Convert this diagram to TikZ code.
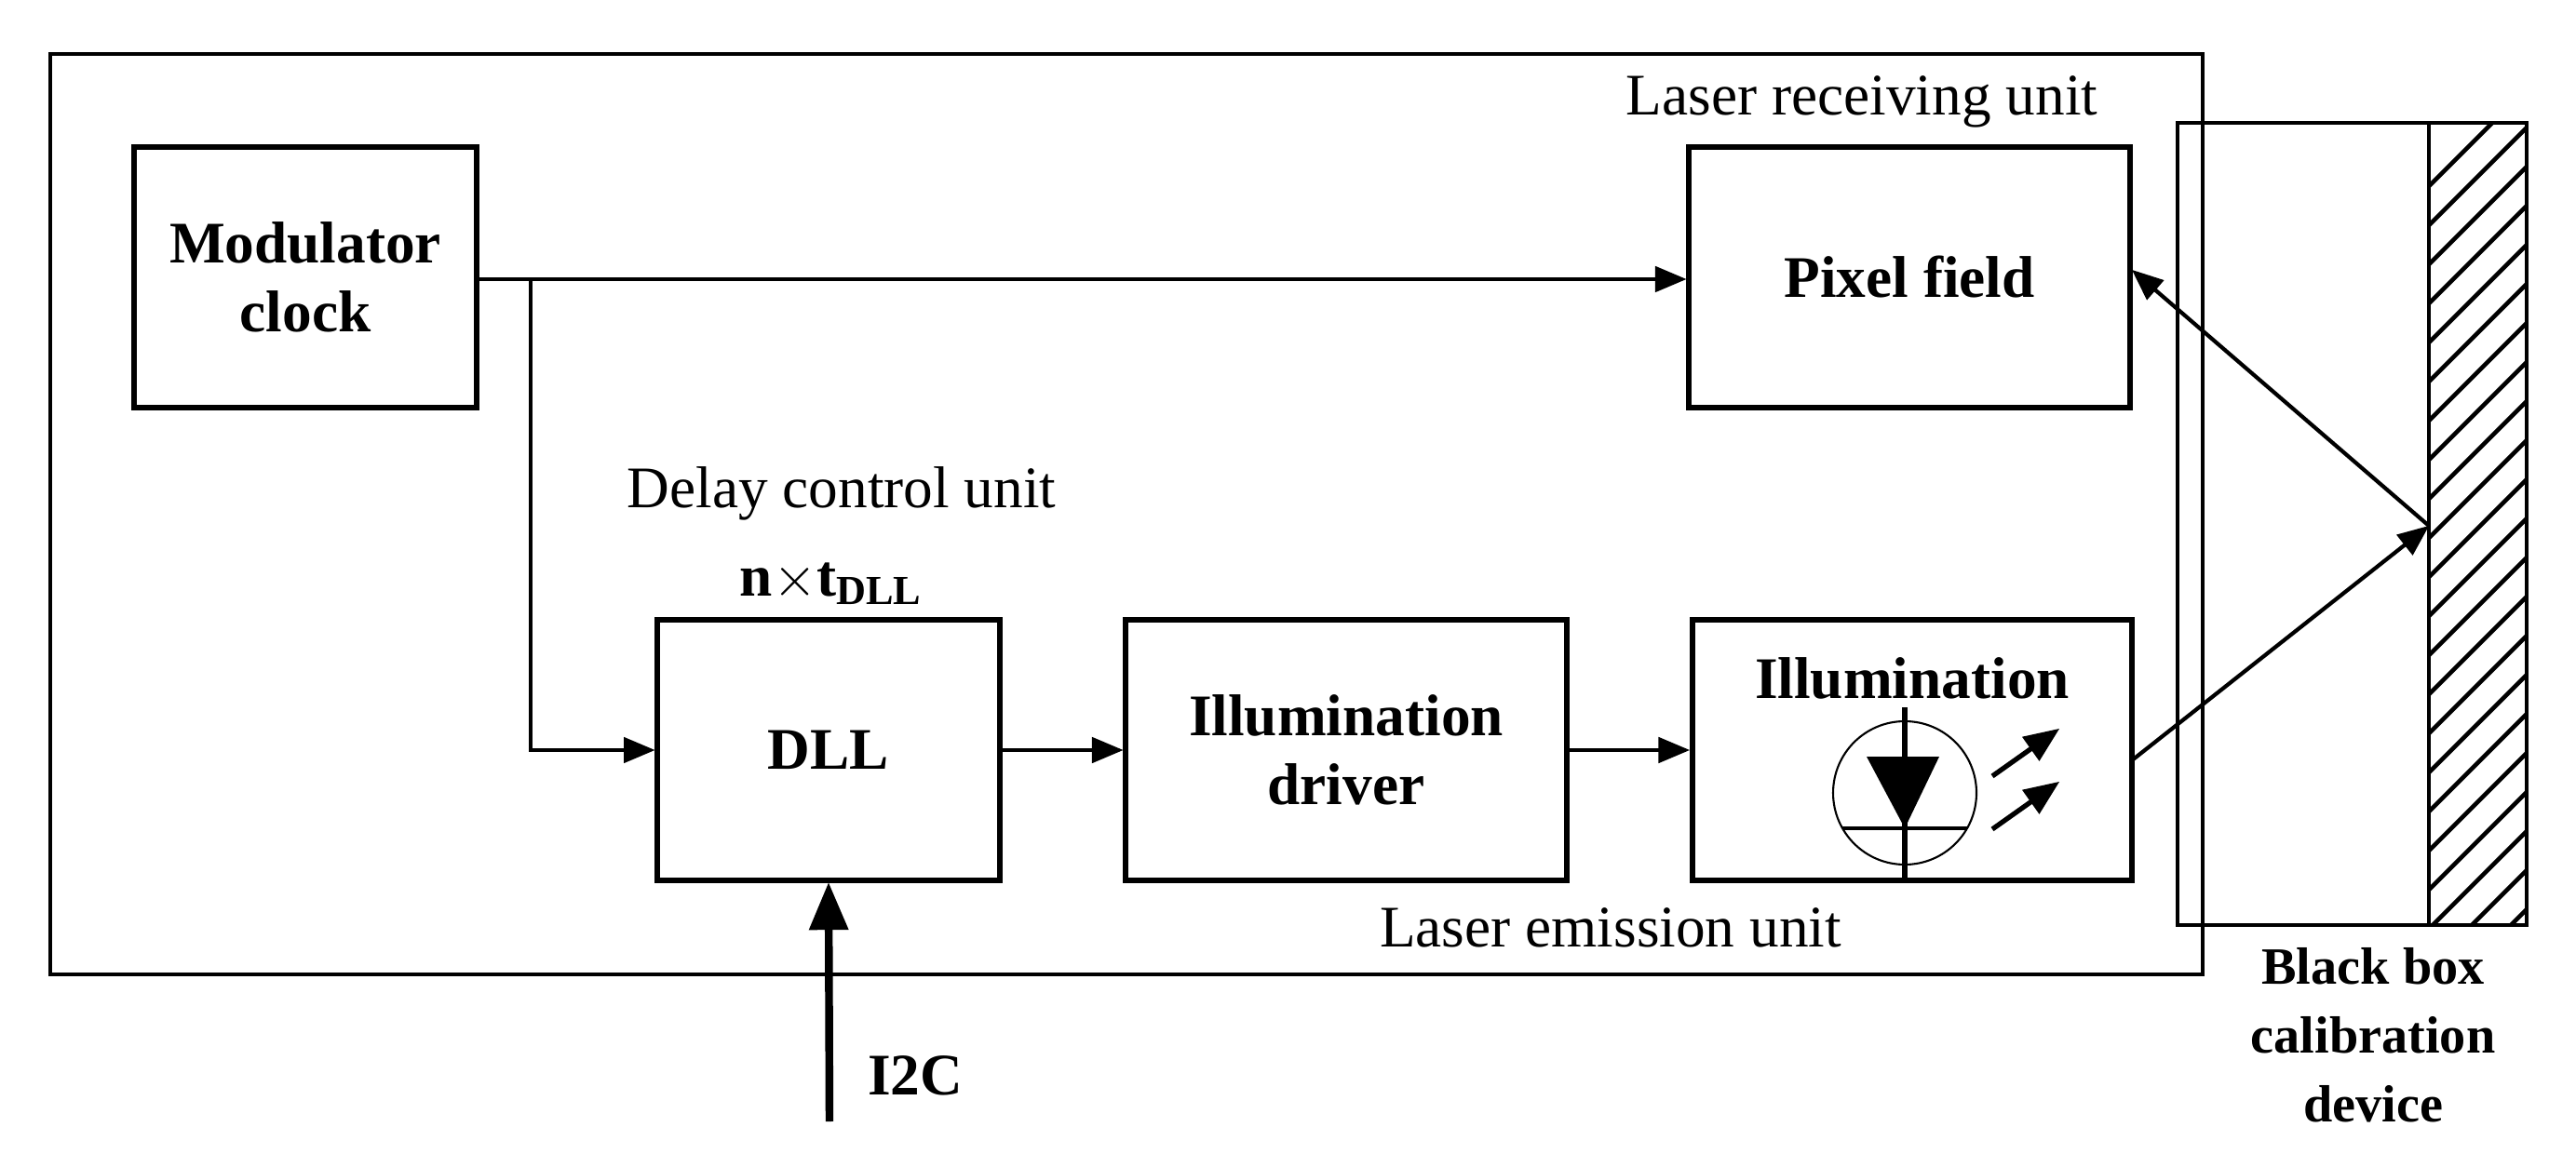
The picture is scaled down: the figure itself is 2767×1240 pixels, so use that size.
\documentclass[tikz,border=0pt]{standalone}
\usepackage{fontspec}
\setmainfont{Liberation Serif}
\usetikzlibrary{arrows}
\tikzstyle{block} = [rectangle, minimum width=3.67cm, minimum height=2.79cm, text centered, align=center, draw=black, line width=1.7pt, font=\fontsize{18}{21}\selectfont\bfseries]
\tikzstyle{lbl} = [font=\fontsize{18}{21}\selectfont]
\tikzstyle{arrow} = [line width=1.2pt,->,>=triangle 45]
\begin{document}
\begin{tikzpicture}[x=0.01cm, y=-0.01cm]
    \useasboundingbox (0,0) rectangle (2767,1240);
    \node (outer) [draw, line width=1.2pt, minimum width=23.1cm, minimum height=9.89cm] at (1210,552.5) {};
    \node (mod) [block] at (328,298) {Modulator\\clock};
    \node (pix) [block, minimum width=4.73cm] at (2051,298) {Pixel field};
    \node (dll) [block] at (890,806) {DLL};
    \node (drv) [block, minimum width=4.73cm] at (1446,806) {Illumination\\driver};
    \node (ill) [block, minimum width=4.72cm] at (2054,806) {};
    \node at (2054,729) [lbl, font=\fontsize{18}{21}\selectfont\bfseries] {Illumination};

    % diode
    \draw [line width=0.6pt] (2046,852) circle (77);
    \draw [line width=1.5pt] (2046,760) -- (2046,944);
    \fill (2005,813) -- (2083,813) -- (2046,890) -- cycle;
    \draw [line width=1pt] (1979,890) -- (2113,890);
    \draw [line width=1.5pt,->,>=triangle 45] (2140,834) -- (2212,783);
    \draw [line width=1.5pt,->,>=triangle 45] (2140,891) -- (2212,840);

    % calibration device
    \node (cal) [draw, line width=1.2pt, minimum width=3.75cm, minimum height=8.62cm] at (2526.5,563) {};
    \coordinate (refl) at (2609,565);
    \draw [line width=1.2pt] (2609,132) -- (2609,994);
    \begin{scope}
        \clip (2609,132) rectangle (2714,994);
        \foreach \k in {0,...,25} {
            \draw [line width=1.3pt] (2609,200+\k*42) -- (2729,80+\k*42);
        }
    \end{scope}

    % labels
    \node at (2000,109) [lbl] {Laser receiving unit};
    \node at (904,530) [lbl] {Delay control unit};
    \node at (893,627) [lbl, font=\fontsize{18}{21}\selectfont\bfseries] {n$\times$t\textsubscript{DLL}};
    \node at (1730,997) [lbl] {Laser emission unit};
    \node (i2c) at (983,1156) [lbl, font=\fontsize{18}{21}\selectfont\bfseries] {I2C};
    \node at (2549,1112) [lbl, align=center, font=\fontsize{16}{21}\selectfont\bfseries] {Black box\\calibration\\device};
    \coordinate (i2cin) at (891,1205);
    \coordinate (split) at (570,300);

    % connectors
    \draw [arrow] (mod.east |- split) -- (pix.west |- split);
    \draw [arrow] (split) |- (dll.west);
    \draw [arrow] (dll) -- (drv);
    \draw [arrow] (drv) -- (ill);
    \draw [line width=2.4pt,->,>=triangle 45] (i2cin) -- (dll.south);
    \draw [arrow] (2290,817) -- (refl);
    \draw [arrow] (refl) -- (2290,290);
\end{tikzpicture}
\end{document}
